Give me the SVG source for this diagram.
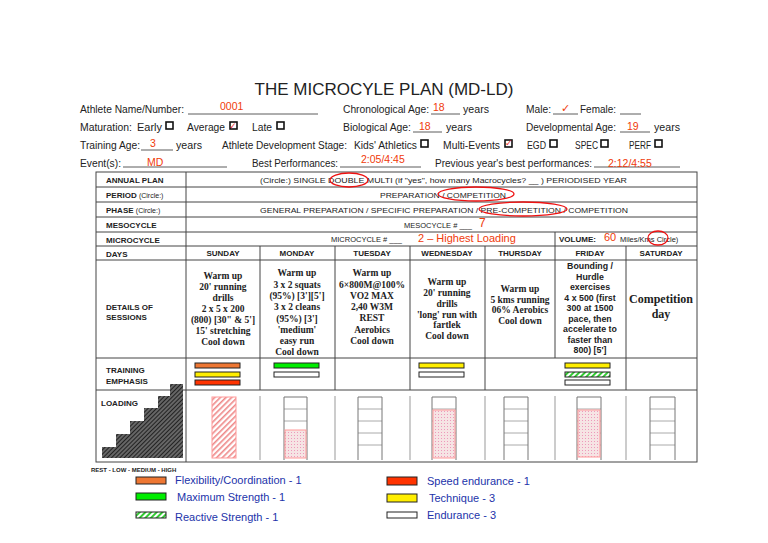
<svg xmlns="http://www.w3.org/2000/svg" width="768" height="543" viewBox="0 0 768 543">
<defs>
<pattern id="rh" width="4" height="4" patternUnits="userSpaceOnUse" patternTransform="rotate(45)"><rect width="4" height="4" fill="#fff"/><rect width="1.6" height="4" fill="#e88"/></pattern>
<pattern id="dh" width="3" height="3" patternUnits="userSpaceOnUse" patternTransform="rotate(45)"><rect width="3" height="3" fill="#666"/><rect width="1" height="3" fill="#222"/></pattern>
<pattern id="gh" width="4" height="4" patternUnits="userSpaceOnUse" patternTransform="rotate(45)"><rect width="4" height="4" fill="#fff"/><rect width="2" height="4" fill="#3c3"/></pattern>
<pattern id="ph" width="3" height="3" patternUnits="userSpaceOnUse"><rect width="3" height="3" fill="#f6e4e4"/><rect width="1" height="1" fill="#e9b"/></pattern>
</defs>
<style>
text{font-family:"Liberation Sans",Arial,sans-serif;fill:#222}
.f{font-size:10px}
.r{fill:#f03a0a;font-size:10.5px}
.t{font-size:7.5px}
.l{font-size:8px;font-weight:bold}
.d{font-size:8px;font-weight:bold;text-anchor:middle}
.s{font-family:"Liberation Serif",serif;font-size:9.5px;text-anchor:middle;font-weight:bold}
.sa{font-size:9px;text-anchor:middle;font-weight:bold}
.g{stroke:#444;stroke-width:1;fill:none}
.u{stroke:#333;stroke-width:0.8}
.cb{fill:#fff;stroke:#111;stroke-width:1.6}
.lg{fill:#2233aa;font-size:11px}
.sw{stroke:#222;stroke-width:1}
.lad{fill:none;stroke:#777;stroke-width:1}
.rung{stroke:#aaa;stroke-width:1}
.ov{fill:none;stroke:#e11;stroke-width:1.3}
</style>
<rect width="768" height="543" fill="#fff"/>
<g id="header">
<text x="384" y="95" text-anchor="middle" style="font-size:17px">THE MICROCYLE PLAN (MD-LD)</text>
<path class="u" d="M188 114H318M431 114H460M553 114H578M620 114H641M413 132H442M620 132H650M141 150H173M123 167H227M340 167H421M594 167H680"/>
<text class="f" x="80" y="113" textLength="104" lengthAdjust="spacingAndGlyphs">Athlete Name/Number:</text>
<text class="r" x="220" y="110">0001</text>
<text class="f" x="343" y="113" textLength="86" lengthAdjust="spacingAndGlyphs">Chronological Age:</text>
<text class="r" x="433" y="111">18</text>
<text class="f" x="463" y="113" textLength="26" lengthAdjust="spacingAndGlyphs">years</text>
<text class="f" x="526" y="113" textLength="25" lengthAdjust="spacingAndGlyphs">Male:</text>
<text class="r" x="561" y="112">✓</text>
<text class="f" x="580" y="113" textLength="36" lengthAdjust="spacingAndGlyphs">Female:</text>
<text class="f" x="80" y="131" textLength="52" lengthAdjust="spacingAndGlyphs">Maturation:</text>
<text class="f" x="137" y="131" textLength="25" lengthAdjust="spacingAndGlyphs">Early</text>
<text class="f" x="187" y="131" textLength="38" lengthAdjust="spacingAndGlyphs">Average</text>
<text class="f" x="252" y="131" textLength="20" lengthAdjust="spacingAndGlyphs">Late</text>
<rect class="cb" x="166" y="122" width="7" height="7"/>
<rect class="cb" x="230" y="122" width="7" height="7"/>
<rect class="cb" x="277" y="122" width="7" height="7"/>
<text x="229" y="129" style="fill:#e33;font-size:9px">✓</text>
<text class="f" x="343" y="131" textLength="68" lengthAdjust="spacingAndGlyphs">Biological Age:</text>
<text class="r" x="419" y="130">18</text>
<text class="f" x="446" y="131" textLength="26" lengthAdjust="spacingAndGlyphs">years</text>
<text class="f" x="526" y="131" textLength="90" lengthAdjust="spacingAndGlyphs">Developmental Age:</text>
<text class="r" x="627" y="130">19</text>
<text class="f" x="654" y="131" textLength="26" lengthAdjust="spacingAndGlyphs">years</text>
<text class="f" x="80" y="149" textLength="60" lengthAdjust="spacingAndGlyphs">Training Age:</text>
<text class="r" x="150" y="147">3</text>
<text class="f" x="176" y="149" textLength="26" lengthAdjust="spacingAndGlyphs">years</text>
<text class="f" x="222" y="149" textLength="125" lengthAdjust="spacingAndGlyphs">Athlete Development Stage:</text>
<text class="f" x="354" y="149" textLength="63" lengthAdjust="spacingAndGlyphs">Kids' Athletics</text>
<text class="f" x="443" y="149" textLength="57" lengthAdjust="spacingAndGlyphs">Multi-Events</text>
<text class="f" x="527" y="149" textLength="19" lengthAdjust="spacingAndGlyphs">EGD</text>
<text class="f" x="575" y="149" textLength="23" lengthAdjust="spacingAndGlyphs">SPEC</text>
<text class="f" x="629" y="149" textLength="22" lengthAdjust="spacingAndGlyphs">PERF</text>
<rect class="cb" x="421" y="140" width="7" height="7"/>
<rect class="cb" x="505" y="140" width="7" height="7"/>
<rect class="cb" x="550" y="140" width="7" height="7"/>
<rect class="cb" x="601" y="140" width="7" height="7"/>
<rect class="cb" x="655" y="140" width="7" height="7"/>
<text x="505" y="146" style="fill:#e33;font-size:9px">✓</text>
<text class="f" x="80" y="167" textLength="41" lengthAdjust="spacingAndGlyphs">Event(s):</text>
<text class="r" x="147" y="166">MD</text>
<text class="f" x="252" y="167" textLength="86" lengthAdjust="spacingAndGlyphs">Best Performances:</text>
<text class="r" x="361" y="163">2:05/4:45</text>
<text class="f" x="435" y="167" textLength="157" lengthAdjust="spacingAndGlyphs">Previous year's best performances:</text>
<text class="r" x="608" y="167">2:12/4:55</text>
</g>
<g id="table">
<rect class="g" x="96" y="172" width="601" height="290"/>
<path class="g" d="M186 172V462M96 187H697M96 202H697M96 217H697M96 232H697M96 246H697M96 260H697M96 358H697M96 390H697M555 232V358M260 246V390M335 246V390M410 246V390M485 246V390M626 246V390"/>
<path stroke="#999" d="M260 396V460M335 396V460M410 396V460M485 396V460M555 396V460M626 396V460"/>
<text class="l" x="106" y="183">ANNUAL PLAN</text>
<text class="l" x="106" y="198">PERIOD <tspan style="font-weight:normal;font-size:7px">(Circle:)</tspan></text>
<text class="l" x="106" y="213">PHASE <tspan style="font-weight:normal;font-size:7px">(Circle:)</tspan></text>
<text class="l" x="106" y="228">MESOCYCLE</text>
<text class="l" x="106" y="243">MICROCYCLE</text>
<text class="l" x="106" y="257">DAYS</text>
<text class="l" x="106" y="310">DETAILS OF</text>
<text class="l" x="106" y="320">SESSIONS</text>
<text class="l" x="106" y="373">TRAINING</text>
<text class="l" x="106" y="384">EMPHASIS</text>
<text class="l" x="101" y="406">LOADING</text>
<text class="t" x="260" y="183" textLength="367" lengthAdjust="spacingAndGlyphs">(Circle:) SINGLE  DOUBLE  MULTI (if "yes", how many Macrocycles? __ ) PERIODISED YEAR</text>
<ellipse class="ov" cx="349" cy="180" rx="19" ry="7"/>
<text class="t" x="380" y="198" textLength="126" lengthAdjust="spacingAndGlyphs">PREPARATION / COMPETITION</text>
<ellipse class="ov" cx="476" cy="194" rx="38" ry="7"/>
<text class="t" x="260" y="213" textLength="368" lengthAdjust="spacingAndGlyphs">GENERAL PREPARATION / SPECIFIC PREPARATION / PRE-COMPETITION / COMPETITION</text>
<ellipse class="ov" cx="523" cy="209" rx="44" ry="7"/>
<text class="t" x="404" y="228">MESOCYCLE # ___</text>
<text class="r" x="479" y="227" style="font-size:12px">7</text>
<text class="t" x="331" y="242">MICROCYCLE # ___</text>
<text class="r" x="418" y="242" style="font-size:11px">2 – Highest Loading</text>
<text x="559" y="242" style="font-size:8px;font-weight:bold">VOLUME:</text>
<text class="r" x="604" y="241" style="font-size:11px">60</text>
<text x="620" y="242" style="font-size:7.5px">Miles/Kms  Circle)</text>
<ellipse class="ov" cx="658" cy="238" rx="10" ry="7"/>
<text class="d" x="223" y="256">SUNDAY</text>
<text class="d" x="297" y="256">MONDAY</text>
<text class="d" x="372" y="256">TUESDAY</text>
<text class="d" x="447" y="256">WEDNESDAY</text>
<text class="d" x="520" y="256">THURSDAY</text>
<text class="d" x="590" y="256">FRIDAY</text>
<text class="d" x="661" y="256">SATURDAY</text>
<text class="s"><tspan x="223" y="279">Warm up</tspan><tspan x="223" y="290">20' running</tspan><tspan x="223" y="301">drills</tspan><tspan x="223" y="312">2 x 5 x 200</tspan><tspan x="223" y="323">(800) [30" &amp; 5']</tspan><tspan x="223" y="334">15' stretching</tspan><tspan x="223" y="345">Cool down</tspan></text>
<text class="s"><tspan x="297" y="276">Warm up</tspan><tspan x="297" y="288">3 x 2 squats</tspan><tspan x="297" y="299">(95%) [3'][5']</tspan><tspan x="297" y="310">3 x 2 cleans</tspan><tspan x="297" y="322">(95%) [3']</tspan><tspan x="297" y="333">'medium'</tspan><tspan x="297" y="344">easy run</tspan><tspan x="297" y="355">Cool down</tspan></text>
<text class="s"><tspan x="372" y="276">Warm up</tspan><tspan x="372" y="288">6×800M@100%</tspan><tspan x="372" y="299">VO2 MAX</tspan><tspan x="372" y="310">2,40 W3M</tspan><tspan x="372" y="321">REST</tspan><tspan x="372" y="333">Aerobics</tspan><tspan x="372" y="344">Cool down</tspan></text>
<text class="s"><tspan x="447" y="285">Warm up</tspan><tspan x="447" y="296">20' running</tspan><tspan x="447" y="307">drills</tspan><tspan x="447" y="318">'long' run with</tspan><tspan x="447" y="328">fartlek</tspan><tspan x="447" y="339">Cool down</tspan></text>
<text class="s"><tspan x="520" y="292">Warm up</tspan><tspan x="520" y="303">5 kms  running</tspan><tspan x="520" y="313">06% Aerobics</tspan><tspan x="520" y="324">Cool down</tspan></text>
<text class="sa" style="font-size:8.8px"><tspan x="590" y="269">Bounding /</tspan><tspan x="590" y="279.5">Hurdle</tspan><tspan x="590" y="290">exercises</tspan><tspan x="590" y="300.5">4 x 500 (first</tspan><tspan x="590" y="311">300 at 1500</tspan><tspan x="590" y="321.5">pace, then</tspan><tspan x="590" y="332">accelerate to</tspan><tspan x="590" y="342.5">faster than</tspan><tspan x="590" y="353">800) [5']</tspan></text>
<text class="s" style="font-size:12px"><tspan x="661" y="303">Competition</tspan><tspan x="661" y="318">day</tspan></text>
</g>
<g id="emphasis">
<rect class="sw" x="195" y="363" width="45" height="5" fill="#ee7733"/>
<rect class="sw" x="195" y="372" width="45" height="5" fill="#ffee00"/>
<rect class="sw" x="195" y="380" width="45" height="5" fill="#ff3300"/>
<rect class="sw" x="274" y="363" width="45" height="5" fill="#00ee00"/>
<rect class="sw" x="274" y="372" width="45" height="5" fill="#fff"/>
<rect class="sw" x="419" y="363" width="45" height="5" fill="#ffee00"/>
<rect class="sw" x="419" y="372" width="45" height="5" fill="#fff"/>
<rect class="sw" x="565" y="363" width="45" height="5" fill="#ffee00"/>
<rect class="sw" x="565" y="372" width="45" height="5" fill="url(#gh)"/>
<rect class="sw" x="565" y="380" width="45" height="5" fill="#fff"/>
</g>
<g id="loading">
<path fill="url(#dh)" d="M102 458V447H116V434H130V421H144V408H158V396H170V384H183V458Z"/>
<rect x="212" y="397" width="24" height="61" fill="url(#rh)" stroke="#f99"/>
<path class="rung" d="M284 409H307M284 421H307M284 433H307M284 445H307M358 409H382M358 421H382M358 433H382M358 445H382M432 409H456M432 421H456M432 433H456M432 445H456M504 409H528M504 421H528M504 433H528M504 445H528M577 409H601M577 421H601M577 433H601M577 445H601M650 409H675M650 421H675M650 433H675M650 445H675"/>
<path class="lad" d="M284 397H307M284 397V460M307 397V460M358 397H382M358 397V460M382 397V460M432 397H456M432 397V460M456 397V460M504 397H528M504 397V460M528 397V460M577 397H601M577 397V460M601 397V460M650 397H675M650 397V460M675 397V460"/>
<rect x="285" y="430" width="21" height="28" fill="url(#ph)" stroke="#f99"/>
<rect x="433" y="410" width="22" height="48" fill="url(#ph)" stroke="#f99"/>
<rect x="578" y="410" width="22" height="47" fill="url(#ph)" stroke="#f99"/>
</g>
<g id="legend">
<text x="91" y="472" style="font-size:6px;font-weight:bold">REST - LOW - MEDIUM - HIGH</text>
<rect class="sw" x="136" y="477" width="30" height="7" fill="#ee7733"/>
<text class="lg" x="175" y="484">Flexibility/Coordination - 1</text>
<rect class="sw" x="136" y="493" width="30" height="7" fill="#00ee00"/>
<text class="lg" x="177" y="501">Maximum Strength - 1</text>
<rect class="sw" x="136" y="512" width="30" height="6" fill="url(#gh)"/>
<text class="lg" x="175" y="521">Reactive Strength - 1</text>
<rect class="sw" x="387" y="477" width="30" height="8" fill="#ff3300"/>
<text class="lg" x="427" y="485">Speed endurance - 1</text>
<rect class="sw" x="387" y="494" width="30" height="8" fill="#ffee00"/>
<text class="lg" x="429" y="502">Technique - 3</text>
<rect class="sw" x="387" y="512" width="30" height="6" fill="#fff"/>
<text class="lg" x="427" y="519">Endurance - 3</text>
</g>
</svg>
